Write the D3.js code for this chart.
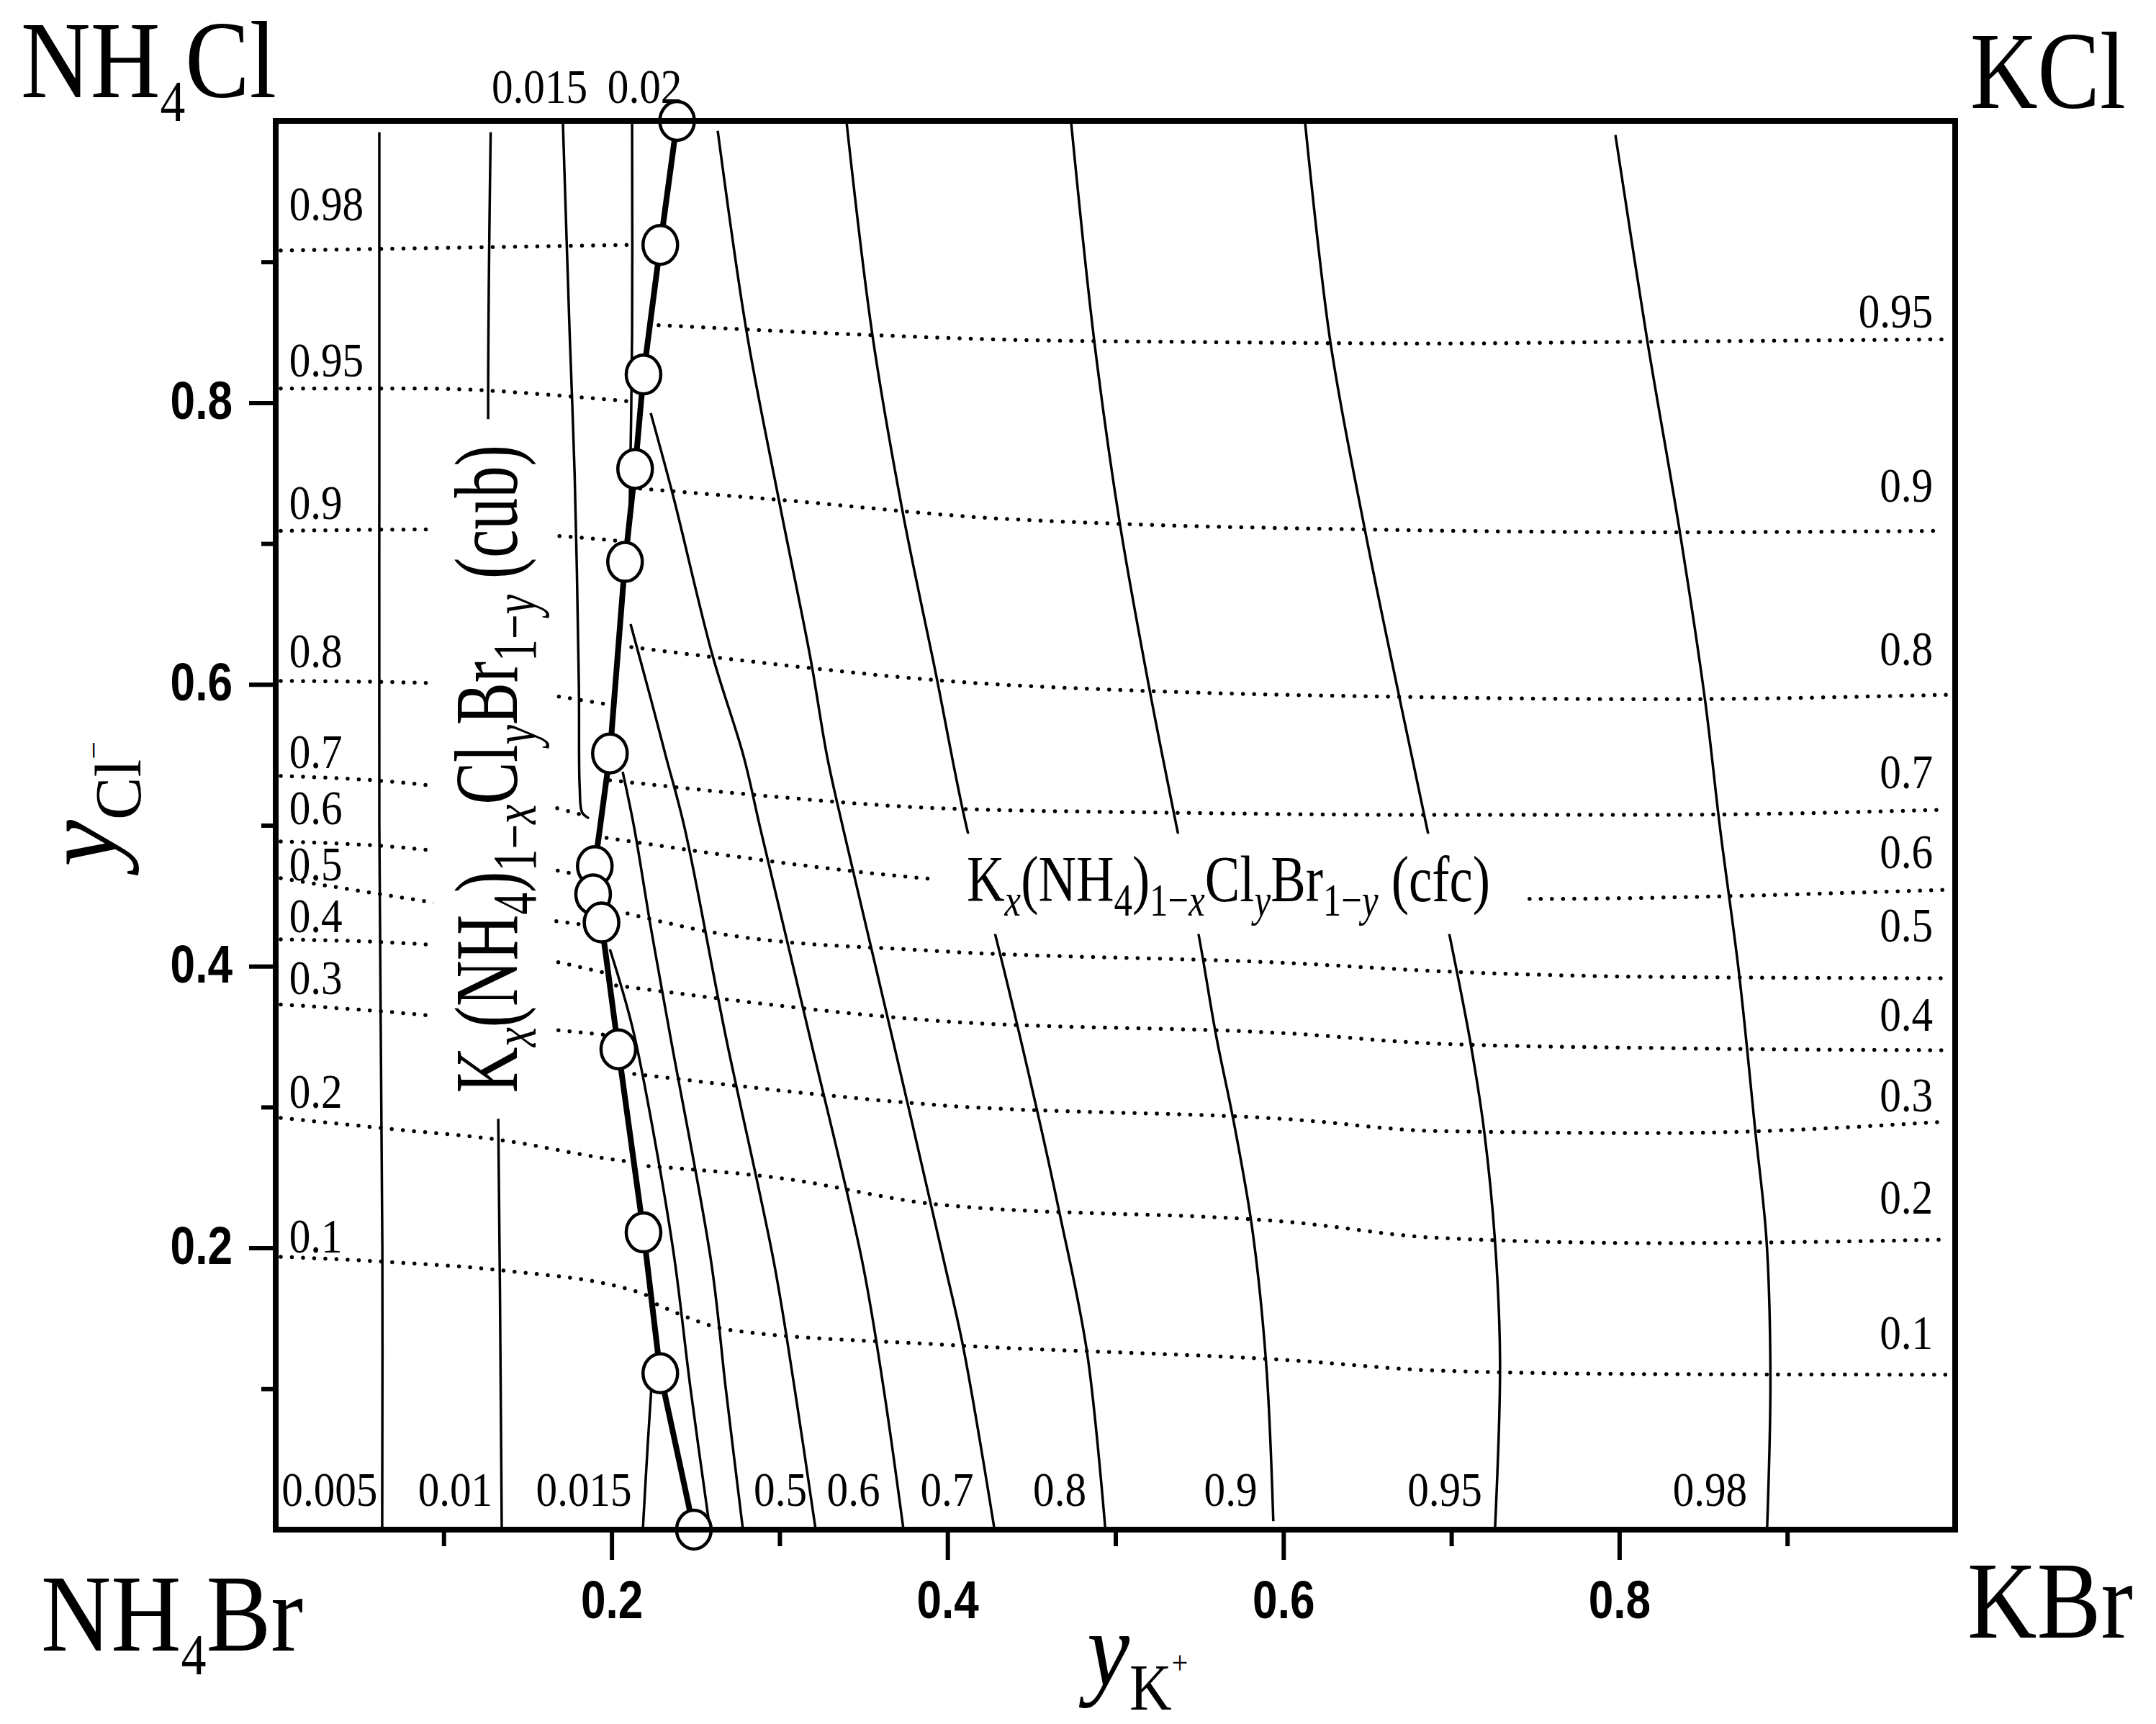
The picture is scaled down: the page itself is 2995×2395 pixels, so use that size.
<!DOCTYPE html>
<html>
<head>
<meta charset="utf-8">
<script src="https://cdn.jsdelivr.net/npm/d3@7"></script>
<style>
  body { margin: 0; background: #fff; }
  svg { display: block; }
  text { white-space: pre; }
  .serif { font-family: "Liberation Serif", "Times New Roman", serif; }
  .sans { font-family: "Liberation Sans", Arial, sans-serif; font-weight: bold; }
</style>
</head>
<body>
<div id="fig"></div>
<script>
// ---------------- data ----------------
var xMajorTicks = [0.2, 0.4, 0.6, 0.8];
var xMinorTicks = [0.1, 0.3, 0.5, 0.7, 0.9];
var yMajorTicks = [0.2, 0.4, 0.6, 0.8];
var yMinorTicks = [0.1, 0.3, 0.5, 0.7, 0.9];

// phase boundary, [y_K+, y_Cl-]
var boundary = [[0.239,1.0],[0.229,0.912],[0.219,0.820],[0.214,0.753],[0.208,0.687],
  [0.199,0.551],[0.190,0.471],[0.189,0.451],[0.194,0.431],[0.204,0.341],
  [0.219,0.211],[0.229,0.111],[0.249,0.0]];

// solid isolines, cub side
var solidCub = [
  {v:"0.005", pts:[[0.0617,0.992],[0.0617,0.75],[0.0617,0.5],[0.0635,0.2],[0.0634,0.0]]},
  {v:"0.01",  pts:[[0.128,0.992],[0.1265,0.786],[0.129,0.55],[0.1325,0.293],[0.1346,0.0]]},
  {v:"0.015", pts:[[0.171,0.999],[0.175,0.85],[0.178,0.749],[0.1805,0.6],[0.181,0.527],[0.1825,0.509],[0.1865,0.505]]},
  {v:"0.015", pts:[[0.2245,0.115],[0.2215,0.06],[0.2186,0.0]]},
  {v:"0.02",  pts:[[0.2122,0.999],[0.2122,0.85],[0.2105,0.703]]}
];

// solid isolines, cfc side
var solidCfc = [
  {v:"",     pts:[[0.199,0.412],[0.2126,0.3556],[0.2276,0.264],[0.2375,0.1916],[0.247,0.1],[0.2586,0.0]]},
  {v:"",     pts:[[0.2066,0.538],[0.2135,0.498],[0.223,0.43],[0.235,0.35],[0.2593,0.19],[0.268,0.1],[0.2782,0.0]]},
  {v:"0.5",  pts:[[0.2113,0.6428],[0.2233,0.59],[0.2323,0.549],[0.2435,0.498],[0.268,0.35],[0.2966,0.19],[0.309,0.1],[0.3215,0.0]]},
  {v:"0.6",  pts:[[0.2233,0.7926],[0.2366,0.734],[0.26,0.621],[0.2786,0.549],[0.2885,0.498],[0.318,0.35],[0.3493,0.19],[0.362,0.1],[0.3738,0.0]]},
  {v:"0.7",  pts:[[0.2632,0.993],[0.2803,0.851],[0.2996,0.731],[0.3185,0.618],[0.3283,0.549],[0.3378,0.498],[0.367,0.35],[0.398,0.19],[0.4093,0.13],[0.428,0.0]]},
  {v:"0.8",  pts:[[0.340,0.998],[0.3553,0.848],[0.3733,0.7225],[0.393,0.608],[0.4115,0.498],[0.4286,0.4216],[0.453,0.2994],[0.4668,0.2243],[0.483,0.1267],[0.494,0.0]]},
  {v:"0.9",  pts:[[0.4737,0.998],[0.4873,0.8447],[0.5024,0.7159],[0.5204,0.5958],[0.5366,0.498],[0.5495,0.4226],[0.5598,0.3516],[0.571,0.286],[0.5817,0.2116],[0.5898,0.117],[0.594,0.006]]},
  {v:"0.95", pts:[[0.613,0.998],[0.628,0.843],[0.6485,0.710],[0.669,0.5912],[0.6855,0.498],[0.699,0.4216],[0.7115,0.345],[0.7197,0.2816],[0.726,0.205],[0.729,0.12],[0.726,0.0]]},
  {v:"0.98", pts:[[0.7977,0.990],[0.8166,0.8447],[0.836,0.7087],[0.851,0.5895],[0.860,0.498],[0.8714,0.394],[0.881,0.283],[0.8877,0.205],[0.890,0.107],[0.888,0.0]]}
];

// dotted isolines, cub side
var dottedCub = [
  {v:"0.98", pts:[[0.003,0.908],[0.108,0.910],[0.2118,0.912]]},
  {v:"0.95", pts:[[0.003,0.810],[0.09,0.810],[0.175,0.8045],[0.21,0.801]]},
  {v:"0.9",  pts:[[0.003,0.709],[0.093,0.710],[0.161,0.706],[0.2036,0.702]]},
  {v:"0.8",  pts:[[0.003,0.6025],[0.0917,0.601],[0.159,0.593],[0.1985,0.5856]]},
  {v:"0.7",  pts:[[0.003,0.535],[0.093,0.528],[0.161,0.514],[0.184,0.507]]},
  {v:"0.6",  pts:[[0.003,0.4885],[0.094,0.482],[0.160,0.4696],[0.18,0.465]]},
  {v:"0.5",  pts:[[0.003,0.4624],[0.0917,0.4456],[0.1617,0.4328],[0.1817,0.4297]]},
  {v:"0.4",  pts:[[0.003,0.419],[0.094,0.415],[0.160,0.4047],[0.195,0.3955]]},
  {v:"0.3",  pts:[[0.003,0.3728],[0.093,0.3648],[0.1586,0.3557],[0.199,0.351]]},
  {v:"0.2",  pts:[[0.003,0.2923],[0.067,0.2846],[0.135,0.2764],[0.1955,0.2637],[0.212,0.261]]},
  {v:"0.1",  pts:[[0.003,0.1937],[0.067,0.190],[0.135,0.184],[0.2148,0.169],[0.224,0.165]]}
];

// dotted isolines, cfc side
var dottedCfc = [
  {v:"0.95", pts:[[0.228,0.855],[0.355,0.848],[0.426,0.845],[0.554,0.843],[0.69,0.842],[0.79,0.843],[0.994,0.845]]},
  {v:"0.9",  pts:[[0.217,0.739],[0.30,0.731],[0.427,0.718],[0.502,0.714],[0.649,0.710],[0.822,0.708],[0.992,0.709]]},
  {v:"0.8",  pts:[[0.2118,0.6265],[0.30,0.614],[0.3985,0.6025],[0.52,0.5953],[0.669,0.5912],[0.822,0.5895],[0.996,0.5927]]},
  {v:"0.7",  pts:[[0.199,0.532],[0.30,0.520],[0.393,0.5122],[0.535,0.5089],[0.683,0.5074],[0.822,0.5074],[0.992,0.511]]},
  {v:"0.6",  pts:[[0.197,0.491],[0.386,0.4624],[0.56,0.452],[0.7388,0.4477],[0.9957,0.4543]]},
  {v:"0.5",  pts:[[0.2095,0.4374],[0.272,0.4216],[0.393,0.4108],[0.607,0.402],[0.691,0.3965],[0.8217,0.3924],[0.9957,0.3914]]},
  {v:"0.4",  pts:[[0.2027,0.3863],[0.393,0.3613],[0.607,0.352],[0.691,0.345],[0.8217,0.3419],[0.9957,0.3403]]},
  {v:"0.3",  pts:[[0.2135,0.3235],[0.393,0.3015],[0.607,0.291],[0.691,0.283],[0.8217,0.2815],[0.9957,0.2897]]},
  {v:"0.2",  pts:[[0.222,0.258],[0.30,0.2496],[0.393,0.231],[0.607,0.218],[0.691,0.2072],[0.8217,0.2034],[0.9957,0.2059]]},
  {v:"0.1",  pts:[[0.227,0.160],[0.272,0.1415],[0.393,0.1316],[0.607,0.120],[0.691,0.1129],[0.8217,0.1104],[0.9957,0.110]]}
];

// isoline labels: [text, centre x] at the bottom and top, [text, baseline y] at the sides
var bottomLabels = [["0.005",0.0321],["0.01",0.1069],["0.015",0.1835],["0.5",0.3005],["0.6",0.344],
  ["0.7",0.3997],["0.8",0.4668],["0.9",0.5686],["0.95",0.6961],["0.98",0.854]];
var topLabels = [["0.015",0.1571],["0.02",0.2197]];
var leftLabels = [["0.98",0.9295],["0.95",0.8186],["0.9",0.7174],["0.8",0.6122],["0.7",0.5406],
  ["0.6",0.5008],["0.5",0.4609],["0.4",0.4241],["0.3",0.3802],["0.2",0.2994],["0.1",0.1967]];
var rightLabels = [["0.95",0.8533],["0.9",0.7297],["0.8",0.6137],["0.7",0.5263],["0.6",0.4696],
  ["0.5",0.4175],["0.4",0.3541],["0.3",0.2969],["0.2",0.2243],["0.1",0.1283]];

var cornerNames = [[["NH"],["4","sub"],["Cl"]], [["KCl"]], [["NH"],["4","sub"],["Br"]], [["KBr"]]];
var phaseNames = ["cub", "cfc"];

// ---------------- layout ----------------
var W = 2995, H = 2395;
var M = {l: 383, r: 2716, t: 168, b: 2125};
var SQ = 0.87;   // horizontal squeeze of the serif text
var SQS = 0.84;  // and of the sans tick labels

var x = d3.scaleLinear().domain([0, 1]).range([M.l, M.r]);
var y = d3.scaleLinear().domain([0, 1]).range([M.b, M.t]);

var svg = d3.select("#fig").append("svg")
  .attr("width", W).attr("height", H)
  .style("background", "#fff");

var solidLine = d3.line().x(function(d){ return x(d[0]); }).y(function(d){ return y(d[1]); })
  .curve(d3.curveCatmullRom.alpha(0.5));
var dotLine = d3.line().x(function(d){ return x(d[0]); }).y(function(d){ return y(d[1]); })
  .curve(d3.curveMonotoneX);

// rich text with sub/superscripts
function rich(text, segs, F, o) {
  var cur = 0;
  segs.forEach(function(s) {
    var k = s[1] || "";
    var isSub = k.indexOf("sub") >= 0, isSup = k.indexOf("sup") >= 0;
    var shift = isSub ? o.subDy * F : isSup ? o.supDy * F : 0;
    var size = isSub ? o.sub * F : isSup ? o.sup * F : F;
    var ts = text.append("tspan").attr("dy", shift - cur).attr("font-size", size).text(s[0]);
    if (k.indexOf("it") >= 0) ts.attr("font-style", "italic");
    cur = shift;
  });
}

// isolines
svg.append("g").selectAll("path")
  .data(solidCub.concat(solidCfc))
  .join("path")
  .attr("d", function(d){ return solidLine(d.pts); })
  .attr("fill", "none").attr("stroke", "#000").attr("stroke-width", 3.5);

svg.append("g").selectAll("path")
  .data(dottedCub.concat(dottedCfc))
  .join("path")
  .attr("d", function(d){ return dotLine(d.pts); })
  .attr("fill", "none").attr("stroke", "#000").attr("stroke-width", 5.5)
  .attr("stroke-linecap", "round").attr("stroke-dasharray", "0 15.5");

// isoline labels
var lab = svg.append("g").attr("class", "serif").attr("font-size", 68);
function numLabel(px, py, t, anchor) {
  lab.append("text")
    .attr("transform", "translate(" + px + "," + py + ") scale(" + SQ + ",1)")
    .attr("text-anchor", anchor).text(t);
}
bottomLabels.forEach(function(d){ numLabel(x(d[1]), y(0.0169), d[0], "middle"); });
topLabels.forEach(function(d){ numLabel(x(d[1]), y(1.0128), d[0], "middle"); });
leftLabels.forEach(function(d){ numLabel(x(0.008), y(d[1]), d[0], "start"); });
rightLabels.forEach(function(d){ numLabel(x(0.9868), y(d[1]), d[0], "end"); });

// phase labels on white patches
function formula(ph) {
  return [["K"],["x","subit"],["(NH"],["4","sub"],[")"],["1\u2212","sub"],["x","subit"],
    ["Cl"],["y","subit"],["Br"],["1\u2212","sub"],["y","subit"],[" (" + ph + ")"]];
}
var phOpt = {sub: 0.7, subDy: 0.21, sup: 0.7, supDy: -0.4};

function phaseLabel(ph, F, target, place, padAlong, padAcross) {
  var g = svg.append("g").attr("class", "serif");
  var rect = g.append("rect").attr("fill", "#fff");
  var t = g.append("text").attr("text-anchor", "middle");
  rich(t, formula(ph), F, phOpt);
  var bb = t.node().getBBox();
  var k = target / bb.width;
  g.attr("transform", place + " scale(" + k + ",1)");
  rect.attr("x", bb.x - padAlong / k).attr("y", bb.y - padAcross)
    .attr("width", bb.width + 2 * padAlong / k).attr("height", bb.height + 2 * padAcross);
}
phaseLabel(phaseNames[0], 124, 900,
  "translate(" + x(0.1436) + "," + y(0.540) + ") rotate(-90)", 36, 6);
phaseLabel(phaseNames[1], 92, 727,
  "translate(" + (x(0.4115) + 727 / 2) + "," + y(0.446) + ")", 42, 12);

// phase boundary
svg.append("path")
  .attr("d", d3.line().x(function(d){ return x(d[0]); }).y(function(d){ return y(d[1]); })(boundary))
  .attr("fill", "none").attr("stroke", "#000").attr("stroke-width", 8);
svg.append("g").selectAll("ellipse")
  .data(boundary)
  .join("ellipse")
  .attr("cx", function(d){ return x(d[0]); })
  .attr("cy", function(d){ return y(d[1]); })
  .attr("rx", 24).attr("ry", 27)
  .attr("fill", "#fff").attr("stroke", "#000").attr("stroke-width", 4.5);

// frame
svg.append("rect")
  .attr("x", M.l).attr("y", M.t).attr("width", M.r - M.l).attr("height", M.b - M.t)
  .attr("fill", "none").attr("stroke", "#000").attr("stroke-width", 8);

// axes
function styleAxis(g) {
  g.select(".domain").remove();
  g.selectAll(".tick line").attr("stroke", "#000").attr("stroke-width", 6);
}
svg.append("g").attr("transform", "translate(0," + M.b + ")")
  .call(d3.axisBottom(x).tickValues(xMinorTicks).tickSize(23).tickFormat(""))
  .call(styleAxis);
var xa = svg.append("g").attr("transform", "translate(0," + M.b + ")")
  .call(d3.axisBottom(x).tickValues(xMajorTicks).tickSize(42).tickFormat(d3.format(".1f")))
  .call(styleAxis);
xa.selectAll(".tick text").attr("class", "sans").attr("font-size", 74).attr("fill", "#000")
  .attr("y", 123).attr("dy", 0).attr("transform", "scale(" + SQS + ",1)");

svg.append("g").attr("transform", "translate(" + M.l + ",0)")
  .call(d3.axisLeft(y).tickValues(yMinorTicks).tickSize(20).tickFormat(""))
  .call(styleAxis);
var ya = svg.append("g").attr("transform", "translate(" + M.l + ",0)")
  .call(d3.axisLeft(y).tickValues(yMajorTicks).tickSize(37).tickFormat(d3.format(".1f")))
  .call(styleAxis);
ya.selectAll(".tick text").attr("class", "sans").attr("font-size", 74).attr("fill", "#000")
  .attr("x", -60 / SQS).attr("dy", 22).attr("transform", "scale(" + SQS + ",1)");

// corner compounds
var cornerPos = [[29, 135, 355], [2737, 150, 216], [57, 2293, 364], [2733, 2275, 230]];
var cOpt = {sub: 0.52, subDy: 0.215, sup: 0.5, supDy: -0.3};
cornerNames.forEach(function(segs, i) {
  var p = cornerPos[i];
  var g = svg.append("g").attr("class", "serif");
  var t = g.append("text");
  rich(t, segs, 153, cOpt);
  var bb = t.node().getBBox();
  var k = p[2] / bb.width;
  g.attr("transform", "translate(" + (p[0] - bb.x * k) + "," + p[1] + ") scale(" + k + ",1)");
});

// axis titles
var tOpt = {sub: 0.61, subDy: 0.23, sup: 0.3, supDy: -0.108};
function axisTitle(segs, place, target) {
  var g = svg.append("g").attr("class", "serif");
  var t = g.append("text");
  rich(t, segs, 148, tOpt);
  var bb = t.node().getBBox();
  var k = target / bb.width;
  g.attr("transform", place + " scale(" + k + ",1)");
}
axisTitle([["y","it"],["K","sub"],["+","sup"]], "translate(1510,2341)", 152);
axisTitle([["y","it"],["Cl","sub"],["\u2212","sup"]], "translate(161,1204) rotate(-90)", 187);
</script>
</body>
</html>
